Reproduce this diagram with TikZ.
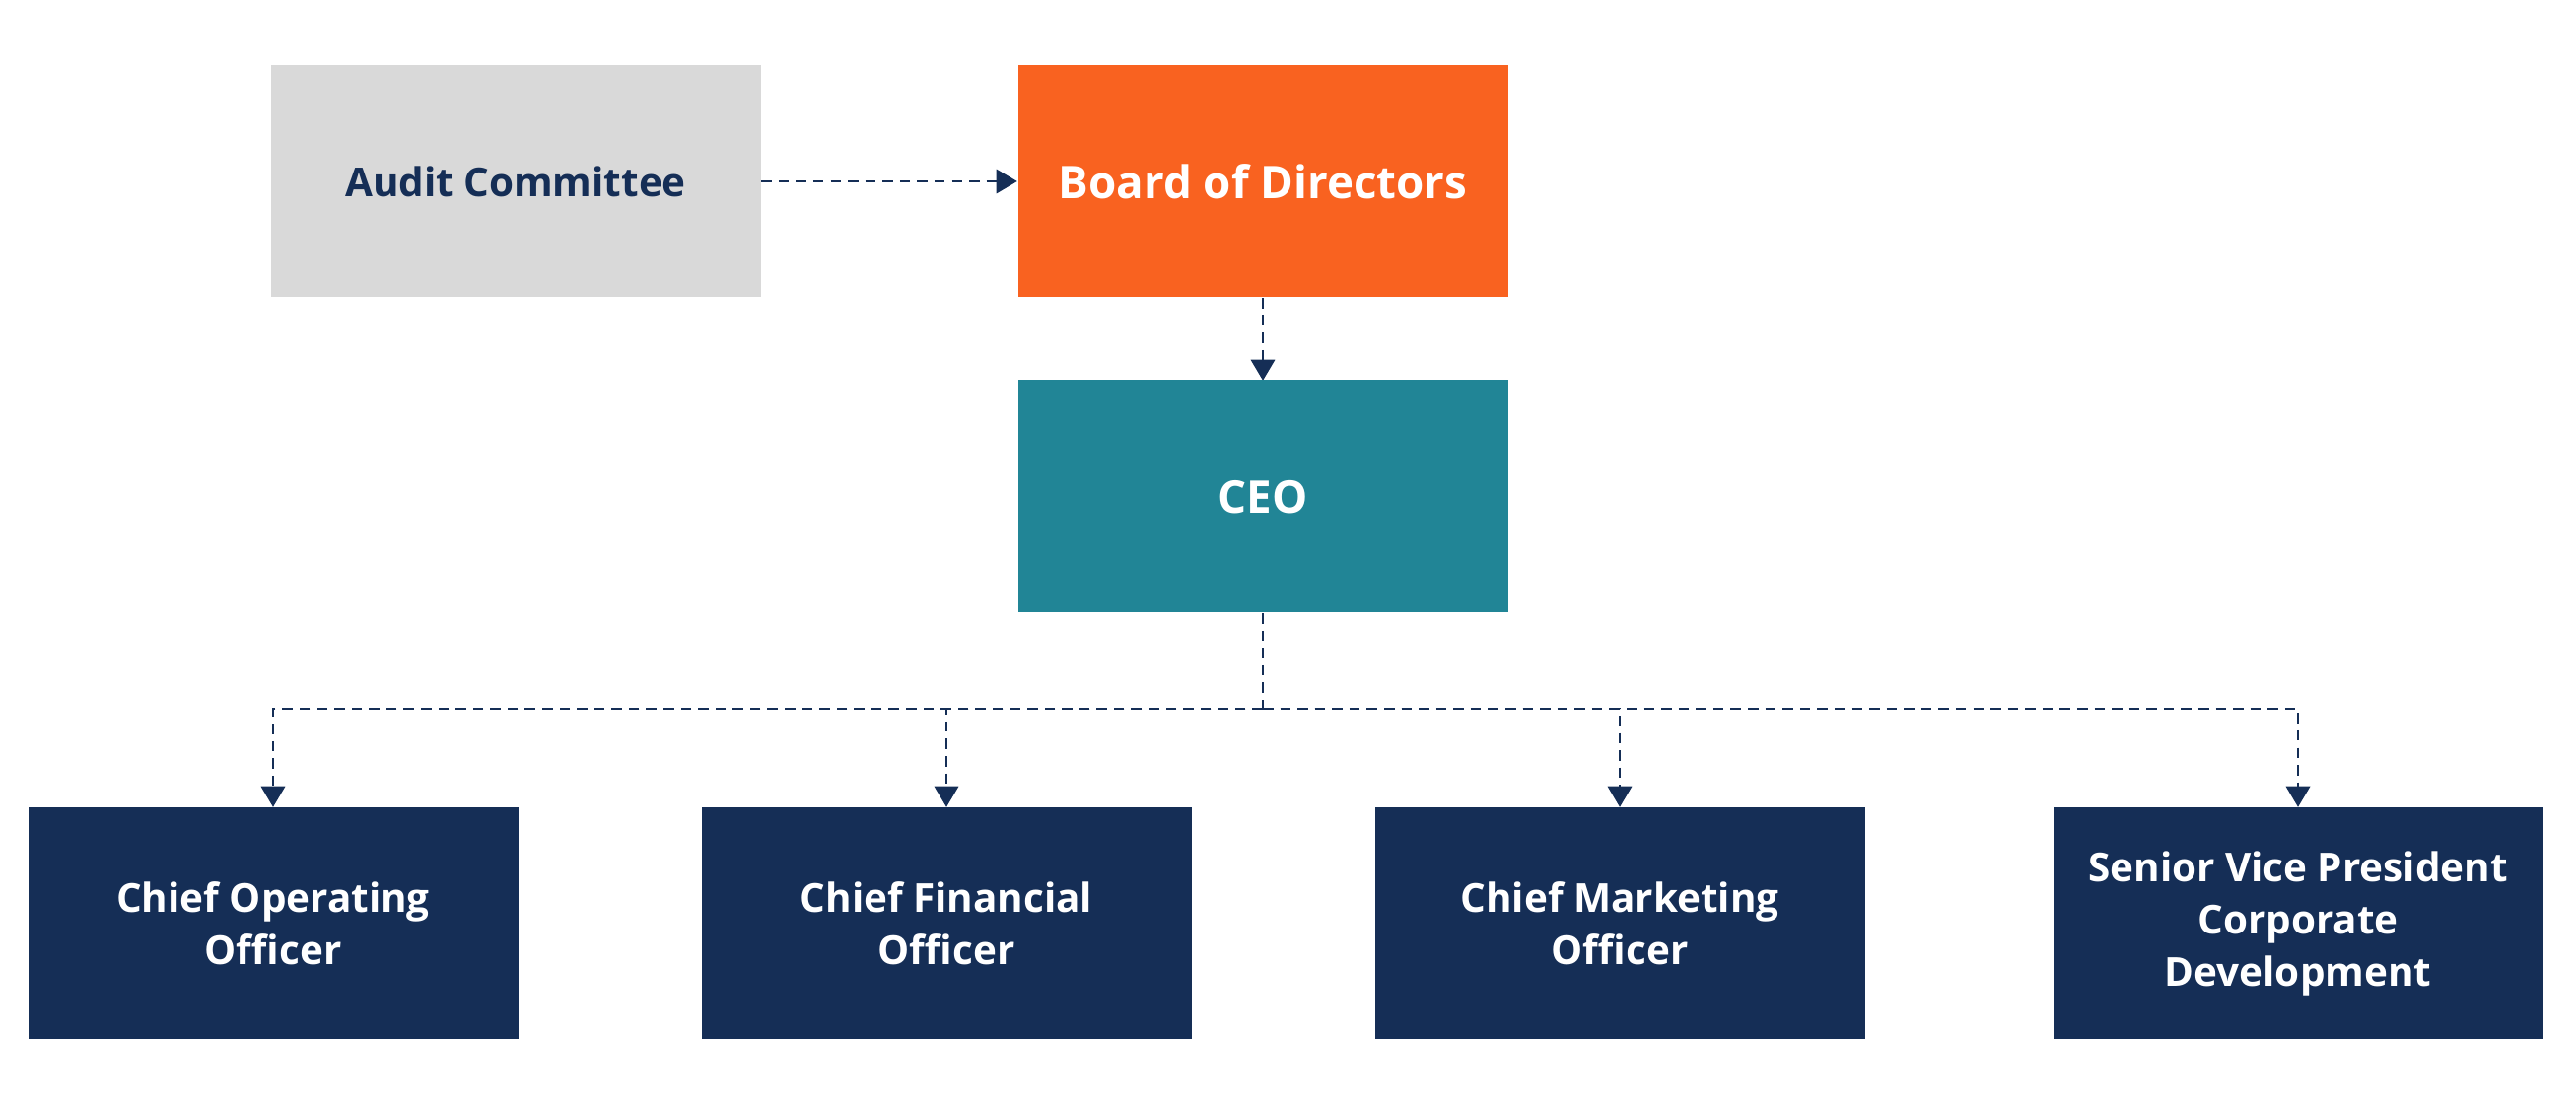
\documentclass[tikz,border=0pt]{standalone}
\usepackage{fontspec}
\setmainfont{Open Sans}
\usetikzlibrary{arrows.meta,positioning}
\definecolor{boardorange}{HTML}{F96220}
\definecolor{ceoteal}{HTML}{218596}
\definecolor{chiefnavy}{HTML}{152E56}
\definecolor{auditgray}{HTML}{D9D9D9}

\begin{document}
\begin{tikzpicture}[
    unit/.style={rectangle, minimum width=4.97cm, minimum height=2.35cm, align=center, font=\bfseries\fontsize{13}{16}\selectfont, text=white, inner sep=2pt},
    chief/.style={unit, fill=chiefnavy, font=\bfseries\fontsize{11.5}{15}\selectfont},
    link/.style={-{Triangle[length=6pt,width=7pt]}, dashed, dash pattern=on 3pt off 2pt, thin, draw=chiefnavy, chiefnavy}
]
\useasboundingbox (0,0) rectangle (26.13,11.21);

% Top rows
\node[unit, fill=auditgray, text=chiefnavy, font=\bfseries\fontsize{11.5}{15}\selectfont] (audit) at (5.23,9.37) {Audit Committee};
\node[unit, fill=boardorange] (board) at (12.81,9.37) {Board of Directors};
\node[unit, fill=ceoteal] (ceo) at (12.81,6.17) {CEO};

% Officers
\node[chief] (coo) at (2.77,1.84) {Chief Operating\\Officer};
\node[chief] (cfo) at (9.60,1.84) {Chief Financial\\Officer};
\node[chief] (cmo) at (16.43,1.84) {Chief Marketing\\Officer};
\node[chief] (svp) at (23.31,1.84) {Senior Vice President\\Corporate\\Development};

% Arrows
\draw[link] (audit) -- (board);
\draw[link] (board) -- (ceo);
\coordinate (split) at (12.81,4.02);
\draw[link, -] (ceo) -- (split);
\foreach \n in {coo,cfo,cmo,svp}
  \draw[link] (split) -| (\n.north);

\end{tikzpicture}
\end{document}
